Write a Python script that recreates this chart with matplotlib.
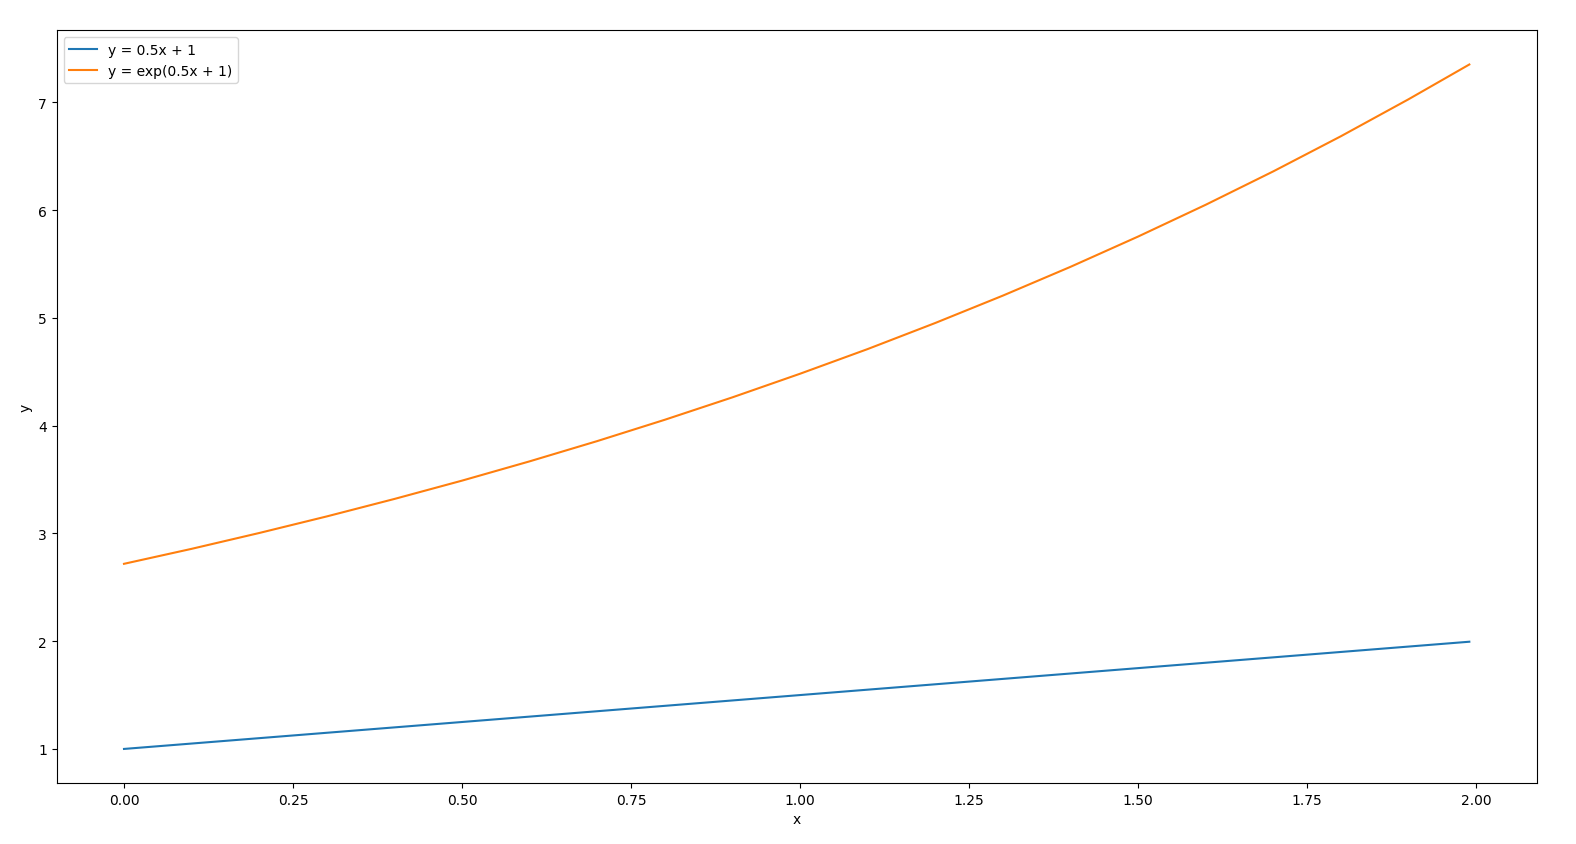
import matplotlib
matplotlib.use("Agg")
import matplotlib.pyplot as plt

# values
x = [0.0, 0.1, 0.2, 0.3, 0.4, 0.5, 0.6, 0.7, 0.8, 0.9, 1.0,
     1.1, 1.2, 1.3, 1.4, 1.5, 1.6, 1.7, 1.8, 1.9, 1.99]
y_lin = [1.00, 1.05, 1.10, 1.15, 1.20, 1.25, 1.30, 1.35, 1.40, 1.45, 1.50,
         1.55, 1.60, 1.65, 1.70, 1.75, 1.80, 1.85, 1.90, 1.95, 1.995]
y_exp = [2.718, 2.857, 3.004, 3.158, 3.320, 3.490, 3.669, 3.857, 4.055, 4.263, 4.482,
         4.711, 4.953, 5.207, 5.474, 5.755, 6.050, 6.360, 6.686, 7.029, 7.352]

fig = plt.figure(figsize=(15.76, 8.45), dpi=100)
ax = fig.add_subplot(111)
ax.plot(x, y_lin, label="y = 0.5x + 1")
ax.plot(x, y_exp, label="y = exp(0.5x + 1)")
ax.set_xlabel("x")
ax.set_ylabel("y")
ax.legend(loc="upper left")
fig.subplots_adjust(left=0.036, right=0.975, top=0.963, bottom=0.072)
fig.savefig("out.png")
